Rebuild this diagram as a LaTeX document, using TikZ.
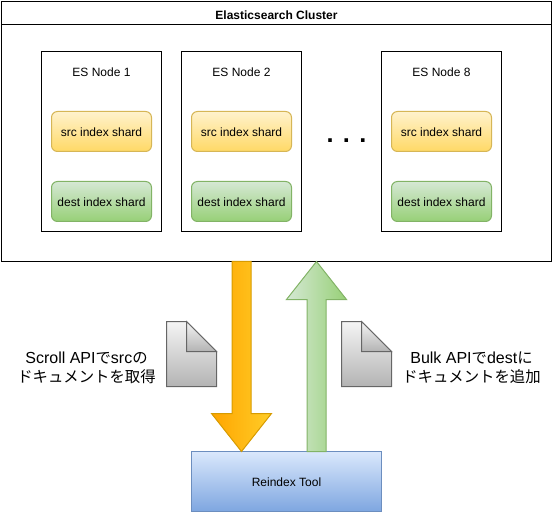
\documentclass[tikz,border=0pt]{standalone}
\usepackage{fontspec}
\setmainfont{Liberation Sans}
\newfontfamily\cjk[Scale=0.96]{Noto Sans CJK JP}
\usetikzlibrary{arrows.meta,positioning,calc}
\definecolor{SrcTop}{HTML}{FFF2CC}
\definecolor{SrcBottom}{HTML}{FFD966}
\definecolor{SrcLine}{HTML}{D6B656}
\definecolor{DestTop}{HTML}{D5E8D4}
\definecolor{DestBottom}{HTML}{97D077}
\definecolor{DestLine}{HTML}{82B366}
\definecolor{ToolTop}{HTML}{DAE8FC}
\definecolor{ToolBottom}{HTML}{7EA6E0}
\definecolor{ToolLine}{HTML}{6C8EBF}
\definecolor{ScrollLeft}{HTML}{FFA500}
\definecolor{ScrollRight}{HTML}{FFCD28}
\definecolor{ScrollLine}{HTML}{D79B00}
\definecolor{DocTop}{HTML}{F5F5F5}
\definecolor{DocBottom}{HTML}{B3B3B3}
\definecolor{DocLine}{HTML}{666666}
% block arrow: start, tip, direction of travel (1 = down, -1 = up)
\newcommand{\blockarrow}[4][]{%
  \draw[#1] ($(#2)+(-9.5,0)$) -- ($(#3)+(-9.5,-38*#4)$) -- ($(#3)+(-30,-38*#4)$) -- (#3)
    -- ($(#3)+(30,-38*#4)$) -- ($(#3)+(9.5,-38*#4)$) -- ($(#2)+(9.5,0)$) -- cycle;}
\newcommand{\docicon}[1]{%
  \draw[docfill] (#1) -- ++(20,0) -- ++(30,30) -- ++(0,35) -- ++(-50,0) -- cycle;
  \draw[docfill] ($(#1)+(20,0)$) -- ++(30,30) -- ++(-30,0) -- cycle;}
\begin{document}
\begin{tikzpicture}[x=0.75pt,y=-0.75pt,
  every node/.style={font=\fontsize{9}{11}\selectfont,align=center,outer sep=0pt,inner sep=0pt},
  every path/.style={line width=0.75pt},
  box/.style={draw=black,fill=white},
  textline/.style={text height=7pt,text depth=0.2pt},
  srcshard/.style={textline,draw=SrcLine,top color=SrcTop,bottom color=SrcBottom,rounded corners=4.5pt,
    minimum width=75pt,minimum height=30pt},
  destshard/.style={textline,draw=DestLine,top color=DestTop,bottom color=DestBottom,rounded corners=4.5pt,
    minimum width=75pt,minimum height=30pt},
  esnode/.style={box,minimum width=90pt,minimum height=135pt},
  caption/.style={font=\fontsize{12}{14.25}\selectfont},
  scrollarrow/.style={draw=ScrollLine,left color=ScrollLeft,right color=ScrollRight},
  bulkarrow/.style={draw=DestLine,left color=DestTop,right color=DestBottom},
  docfill/.style={draw=DocLine,top color=DocTop,bottom color=DocBottom}]
  \useasboundingbox (0,0) rectangle (553,513);
  \node[box,minimum width=412.5pt,minimum height=195pt] (cluster) at (276.5,131.5) {};
  \node[box,minimum width=412.5pt,minimum height=17.25pt] (clustertitle) at (276.5,13) {};
  \node[textline,font=\fontsize{9}{11}\selectfont\bfseries] (clusterlabel) at (276.5,14.5) {Elasticsearch Cluster};

  \node[esnode] (nodea) at (101.5,141.5) {};
  \node[esnode] (nodeb) at (241.5,141.5) {};
  \node[esnode] (nodec) at (441.5,141.5) {};
  \node[textline] (nodealabel) at (101.5,71.5) {ES Node 1};
  \node[textline] (nodeblabel) at (241.5,71.5) {ES Node 2};
  \node[textline] (nodeclabel) at (441.5,71.5) {ES Node 8};

  \node[srcshard] (srca) at (101.5,131.5) {src index shard};
  \node[srcshard] (srcb) at (241.5,131.5) {src index shard};
  \node[srcshard] (srcc) at (441.5,131.5) {src index shard};
  \node[destshard] (desta) at (101.5,201.5) {dest index shard};
  \node[destshard] (destb) at (241.5,201.5) {dest index shard};
  \node[destshard] (destc) at (441.5,201.5) {dest index shard};

  \node[font=\fontsize{19}{21}\selectfont\bfseries] (dots) at (346.5,141) {. . .};

  \node[textline,draw=ToolLine,top color=ToolTop,bottom color=ToolBottom,minimum width=142.5pt,minimum height=45pt] (tool) at (286.5,481.5) {Reindex Tool};

  \coordinate (scrollstart) at (241.5,261.5);
  \coordinate (scrolltip) at (241.5,451.5);
  \coordinate (bulkstart) at (316.5,451.5);
  \coordinate (bulktip) at (316.5,261.5);
  \blockarrow[scrollarrow]{scrollstart}{scrolltip}{1}
  \blockarrow[bulkarrow]{bulkstart}{bulktip}{-1}

  \coordinate (scrolldoc) at (166.5,321.5);
  \coordinate (bulkdoc) at (341.5,321.5);
  \docicon{scrolldoc}
  \docicon{bulkdoc}

  \node[caption] (scrolltext) at (86.5,367.5) {Scroll API{\cjk で}src{\cjk の}\\{\cjk ドキュメントを取得}};
  \node[caption] (bulktext) at (471.5,367.5) {Bulk API{\cjk で}dest{\cjk に}\\{\cjk ドキュメントを追加}};
\end{tikzpicture}
\end{document}
